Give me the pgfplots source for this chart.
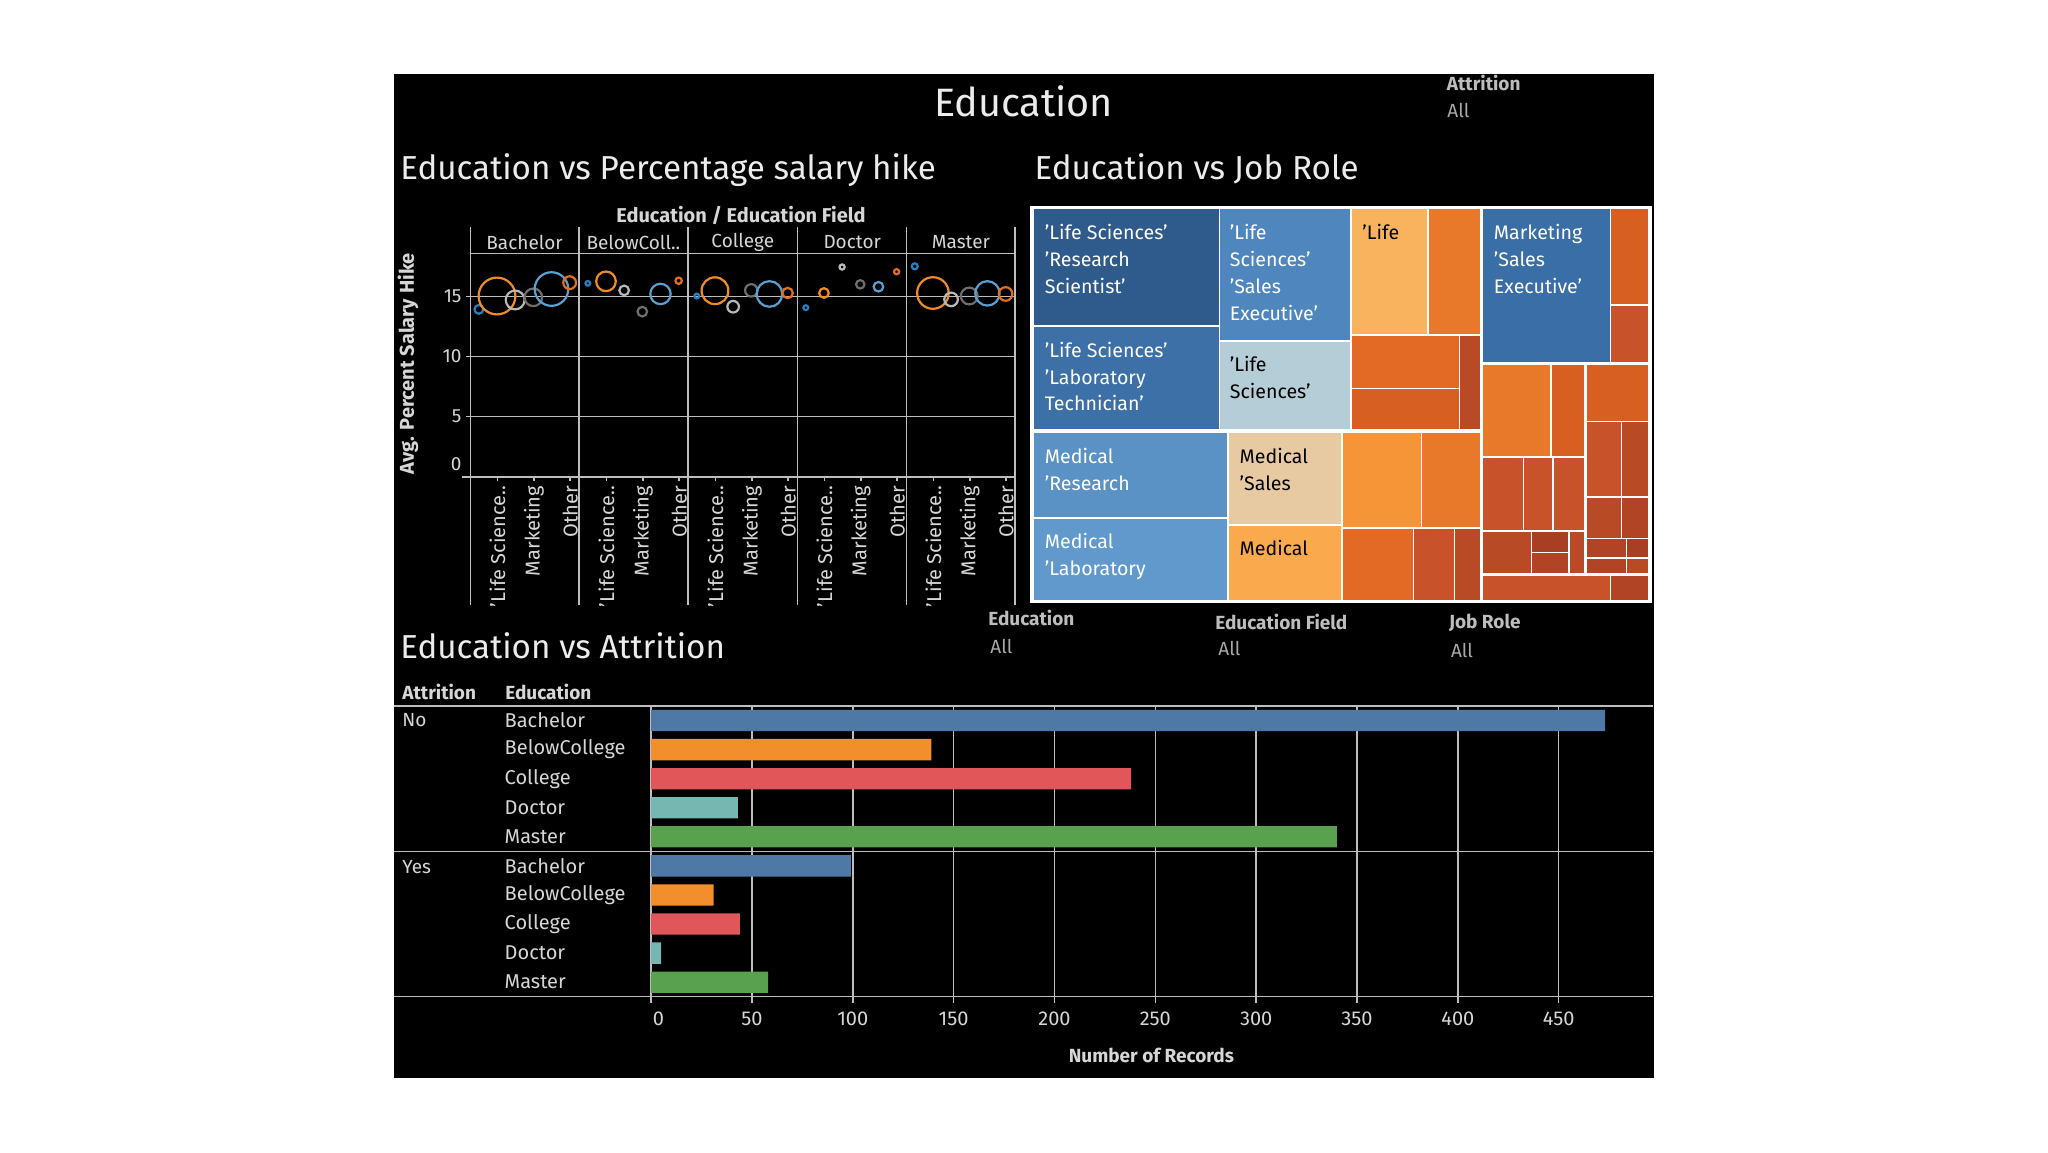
\documentclass[border=0pt]{standalone}
\usepackage{pgfplots}
\pgfplotsset{compat=1.18}
\usepackage{fontspec}
\setmainfont{Fira Sans}
\definecolor{gridc}{HTML}{BDBDBD}
\definecolor{txt}{HTML}{D6D6D6}
\definecolor{ttl}{HTML}{ECECEC}
\definecolor{flt}{HTML}{BDBDBD}
\definecolor{fall}{HTML}{A8A8A8}
\definecolor{cHR}{HTML}{2A7DC0}
\definecolor{cLS}{HTML}{F08C24}
\definecolor{cTD}{HTML}{B8B8B8}
\definecolor{cMK}{HTML}{6E6E6E}
\definecolor{cMD}{HTML}{5AA0D2}
\definecolor{cOT}{HTML}{E0701E}
\definecolor{bBa}{HTML}{4E79A7}
\definecolor{bBC}{HTML}{F28E2B}
\definecolor{bCo}{HTML}{E15759}
\definecolor{bDo}{HTML}{76B7B2}
\definecolor{bMa}{HTML}{59A14F}
\definecolor{tRS}{HTML}{2E5B8C}
\definecolor{tLT}{HTML}{3D70A6}
\definecolor{tLSE}{HTML}{4F86BE}
\definecolor{tLSL}{HTML}{B5CDD7}
\definecolor{tMK}{HTML}{3A6EA6}
\definecolor{tMR}{HTML}{5A92C6}
\definecolor{tML}{HTML}{6199CC}
\definecolor{tBei}{HTML}{E8CAA2}
\definecolor{oL}{HTML}{F9B35F}
\definecolor{oMd}{HTML}{FBA94D}
\definecolor{oM}{HTML}{F59538}
\definecolor{oA}{HTML}{E8782A}
\definecolor{oB}{HTML}{E36A25}
\definecolor{oC}{HTML}{D85F22}
\definecolor{oD}{HTML}{C8522A}
\definecolor{oE}{HTML}{B84A26}
\definecolor{oF}{HTML}{A83E22}
\definecolor{oG}{HTML}{B04424}
\newcommand\tile[5]{\addplot[fill=#5,draw=none] coordinates {(#1,#2) (#3,#2) (#3,#4) (#1,#4)} -- cycle;}
\tikzset{
  lab/.style={font=\fontsize{9.5}{11.4}\selectfont, text=txt, inner sep=0pt},
  hdr/.style={font=\bfseries\fontsize{9.5}{11.4}\selectfont, text=flt, inner sep=0pt},
  sect/.style={font=\fontsize{16.6}{20}\selectfont, text=ttl, inner sep=0pt, anchor=base west},
  tm/.style={font=\fontsize{9.8}{13.45}\selectfont, align=left, inner sep=0pt, anchor=north west},
  gl/.style={gridc, line width=0.75pt},
}
\pgfplotsset{
  bub/.style={scatter, only marks, mark=o, line width=1.1pt,
    scatter/use mapped color={draw=#1, fill=none},
    visualization depends on={\thisrow{r} \as \rr},
    scatter/@pre marker code/.append style={/tikz/mark size=\rr}},
}
\begin{document}
\begin{tikzpicture}
\begin{scope}[x=0.5pt,y=-0.5pt]
\fill[white] (0,0) rectangle (2048,1152);
\fill[black] (394,74) rectangle (1654,1078);
% bubble chart frame lines
\foreach \xx in {470.3,578.9,687.9,797.7,906.6,1015.2}{\draw[gl] (\xx,227.4) -- (\xx,605);}
\draw[gl] (470.3,253.3) -- (1015.2,253.3);
\draw[gl] (462,476.8) -- (1015.2,476.8);
% treemap frame
\fill[white] (1030.2,205.7) rectangle (1651.8,603.3);
% bar chart lines
\draw[gl] (394,706) -- (1653,706);
\draw[gl] (394,851.5) -- (1653,851.5);
\draw[gl] (394,996.7) -- (1653,996.7);
\draw[gl] (651.1,706) -- (651.1,1002);
\end{scope}

% ---------- bubble chart ----------
\begin{axis}[
  at={(235.15pt,-238.4pt)}, anchor=south west, scale only axis,
  width=272.45pt, height=111.75pt,
  xmin=0, xmax=30, ymin=0, ymax=18.58,
  axis line style={draw=none},
  xtick pos=bottom, ytick pos=left,
  ytick={5,10,15}, extra y ticks={0},
  extra y tick style={yticklabel style={yshift=6.5pt}},
  ymajorgrids, grid style={gl},
  tick align=outside, major tick length=2.2pt,
  tick style={gl},
  xtick={1.5,3.5,5.5,7.5,9.5,11.5,13.5,15.5,17.5,19.5,21.5,23.5,25.5,27.5,29.5},
  xticklabels={'Life Science..,Marketing,Other,'Life Science..,Marketing,Other,'Life Science..,Marketing,Other,'Life Science..,Marketing,Other,'Life Science..,Marketing,Other},
  xticklabel shift=2.2pt,
  xticklabel style={rotate=90, anchor=east, font=\fontsize{10}{12}\selectfont, text=txt, inner sep=0pt},
  yticklabel shift=2pt,
  yticklabel style={anchor=east, font=\fontsize{9.5}{11.4}\selectfont, text=txt, inner sep=0pt},
  /pgf/number format/assume math mode=true,
  clip=false,
]
\addplot[bub=cHR] table {
x y r
0.47 13.92 2.2
6.47 16.08 1.2
12.47 15.03 1.2
18.47 14.06 1.2
24.47 17.50 1.5
};
\addplot[bub=cLS] table {
x y r
1.47 15.03 9.2
7.47 16.25 4.9
13.47 15.47 6.7
19.47 15.28 2.4
25.47 15.28 7.9
};
\addplot[bub=cTD] table {
x y r
2.47 14.70 4.7
8.47 15.50 2.4
14.47 14.14 2.9
20.47 17.44 1.3
26.47 14.75 3.4
};
\addplot[bub=cMK] table {
x y r
3.47 14.92 4.4
9.47 13.73 2.4
15.47 15.50 3.1
21.47 16.00 2.1
27.47 15.03 4.2
};
\addplot[bub=cMD] table {
x y r
4.47 15.61 8.4
10.47 15.20 5.1
16.47 15.20 6.4
22.47 15.80 2.4
28.47 15.25 6.1
};
\addplot[bub=cOT] table {
x y r
5.47 16.14 3.2
11.47 16.30 1.6
17.47 15.28 2.6
23.47 17.05 1.3
29.47 15.20 3.4
};
\end{axis}

% ---------- treemap ----------
\begin{axis}[
  at={(515.1pt,-301.65pt)}, anchor=south west, scale only axis,
  width=310.8pt, height=198.8pt,
  xmin=1030.2, xmax=1651.8, ymin=205.7, ymax=603.3, y dir=reverse,
  hide axis, clip=false,
]
\tile{1034.3}{209.2}{1218.8}{325.0}{tRS}
\tile{1034.3}{326.6}{1218.8}{429.2}{tLT}
\tile{1220.4}{209.2}{1350.0}{340.4}{tLSE}
\tile{1220.4}{342.0}{1350.0}{429.2}{tLSL}
\tile{1351.6}{209.2}{1427.3}{334.3}{oL}
\tile{1428.9}{209.2}{1480.4}{334.3}{oA}
\tile{1351.6}{335.9}{1458.6}{387.8}{oB}
\tile{1351.6}{389.4}{1458.6}{429.2}{oC}
\tile{1460.2}{335.9}{1480.4}{429.2}{oE}
\tile{1483.3}{209.2}{1609.6}{362.0}{tMK}
\tile{1611.2}{209.2}{1647.8}{304.3}{oC}
\tile{1611.2}{305.9}{1647.8}{362.0}{oD}
\tile{1034.3}{432.6}{1227.3}{517.0}{tMR}
\tile{1034.3}{518.6}{1227.3}{599.9}{tML}
\tile{1228.9}{432.6}{1341.0}{524.0}{tBei}
\tile{1228.9}{525.6}{1341.0}{599.9}{oMd}
\tile{1342.6}{432.6}{1420.6}{527.4}{oM}
\tile{1422.2}{432.6}{1480.4}{527.4}{oA}
\tile{1342.6}{529.0}{1412.8}{599.9}{oB}
\tile{1414.4}{529.0}{1453.6}{599.9}{oD}
\tile{1455.2}{529.0}{1480.4}{599.9}{oE}
\tile{1483.3}{365.4}{1550.4}{456.0}{oA}
\tile{1552.0}{365.4}{1584.0}{456.0}{oC}
\tile{1483.3}{457.6}{1522.8}{529.9}{oD}
\tile{1524.4}{457.6}{1552.4}{529.9}{oD}
\tile{1554.0}{457.6}{1584.0}{529.9}{oD}
\tile{1483.3}{531.5}{1530.8}{573.0}{oE}
\tile{1532.4}{531.5}{1568.0}{551.8}{oF}
\tile{1532.4}{553.4}{1568.0}{573.0}{oG}
\tile{1569.6}{531.5}{1584.0}{573.0}{oE}
\tile{1587.3}{365.4}{1647.8}{420.6}{oC}
\tile{1587.3}{422.2}{1620.6}{496.4}{oD}
\tile{1622.2}{422.2}{1647.8}{496.4}{oE}
\tile{1587.3}{498.0}{1620.6}{537.8}{oE}
\tile{1622.2}{498.0}{1647.8}{537.8}{oG}
\tile{1587.3}{539.4}{1625.8}{557.0}{oG}
\tile{1627.4}{539.4}{1647.8}{557.0}{oF}
\tile{1587.3}{558.6}{1625.8}{573.0}{oG}
\tile{1627.4}{558.6}{1647.8}{573.0}{oE}
\tile{1483.3}{576.4}{1609.6}{599.9}{oD}
\tile{1611.2}{576.4}{1647.8}{599.9}{oG}
\end{axis}

% ---------- bar chart ----------
\begin{axis}[
  at={(325.55pt,-498.35pt)}, anchor=south west, scale only axis,
  width=501.2pt, height=145.35pt,
  xmin=0, xmax=497, ymin=-0.5, ymax=9.5, y dir=reverse,
  xbar, bar width=0.733, bar shift=0pt,
  axis line style={draw=none},
  xtick pos=bottom, ytick pos=left,
  xtick={50,100,...,450}, extra x ticks={0},
  extra x tick style={xticklabel style={xshift=3.7pt}},
  xmajorgrids, grid style={gl},
  tick align=outside, major tick length=3pt, tick style={gl},
  ytick={0,...,9},
  yticklabels={Bachelor,BelowCollege,College,Doctor,Master,Bachelor,BelowCollege,College,Doctor,Master},
  ytick style={draw=none},
  yticklabel style={anchor=west, xshift=-70.4pt, inner sep=0pt},
  xticklabel style={yshift=-1pt},
  tick label style={font=\fontsize{10}{12}\selectfont, text=txt},
  /pgf/number format/assume math mode=true,
  clip=false,
]
\addplot[fill=bBa, draw=none] coordinates {(473,0) (99,5)};
\addplot[fill=bBC, draw=none] coordinates {(139,1) (31,6)};
\addplot[fill=bCo, draw=none] coordinates {(238,2) (44,7)};
\addplot[fill=bDo, draw=none] coordinates {(43,3) (5,8)};
\addplot[fill=bMa, draw=none] coordinates {(340,4) (58,9)};
\end{axis}

\begin{scope}[x=0.5pt,y=-0.5pt]
% titles
\node[anchor=base, font=\fontsize{19.8}{23}\selectfont, text=ttl, inner sep=0pt] at (1023.5,116) {Education};
\node[sect] at (400,179) {Education vs Percentage salary hike};
\node[sect] at (1034.3,179) {Education vs Job Role};
\node[sect] at (400,658.3) {Education vs Attrition};
% filters
\node[hdr, anchor=west] at (1446.5,83) {Attrition};
\node[lab, anchor=west, text=fall] at (1447,110) {All};
\node[hdr, anchor=west] at (988,618) {Education};
\node[lab, anchor=west, text=fall] at (990,646.7) {All};
\node[hdr, anchor=west] at (1215,621.7) {Education Field};
\node[lab, anchor=west, text=fall] at (1218,648) {All};
\node[hdr, anchor=west] at (1448.6,623.3) {Job Role};
\node[lab, anchor=west, text=fall] at (1450.6,650) {All};
% bubble chart headers
\node[hdr, text=txt, font=\bfseries\fontsize{10}{12}\selectfont] at (741,215) {Education / Education Field};
\node[lab] at (524.6,242) {Bachelor};
\node[lab] at (633.4,242) {BelowColl..};
\node[lab] at (742.8,242) {College};
\node[lab] at (852.2,242) {Doctor};
\node[lab] at (960.9,242) {Master};
\node[hdr, text=txt, rotate=90, font=\bfseries\fontsize{10}{12}\selectfont] at (408,363.7) {Avg. Percent Salary Hike};
% treemap labels
\node[tm, text=white] at (1044.5,224) {'Life Sciences'\\'Research\\Scientist'};
\node[tm, text=white] at (1044.5,341.5) {'Life Sciences'\\'Laboratory\\Technician'};
\node[tm, text=white] at (1229.4,224) {'Life\\Sciences'\\'Sales\\Executive'};
\node[tm, text=black] at (1229.4,356) {'Life\\Sciences'};
\node[tm, text=black] at (1362,224) {'Life};
\node[tm, text=white] at (1493.5,224) {Marketing\\'Sales\\Executive'};
\node[tm, text=white] at (1044.5,447.7) {Medical\\'Research};
\node[tm, text=white] at (1044.5,532.8) {Medical\\'Laboratory};
\node[tm, text=black] at (1239.2,447.7) {Medical\\'Sales};
\node[tm, text=black] at (1239.2,539.7) {Medical};
% bar chart text
\node[hdr, text=txt, anchor=west] at (402,692) {Attrition};
\node[hdr, text=txt, anchor=west] at (505,692) {Education};
\node[lab, anchor=west] at (402,720) {No};
\node[lab, anchor=west] at (402,866.7) {Yes};
\node[hdr, text=txt] at (1151.4,1055) {Number of Records};
\pgfresetboundingbox
\useasboundingbox (0,0) rectangle (2048,1152);
\end{scope}
\end{tikzpicture}
\end{document}
